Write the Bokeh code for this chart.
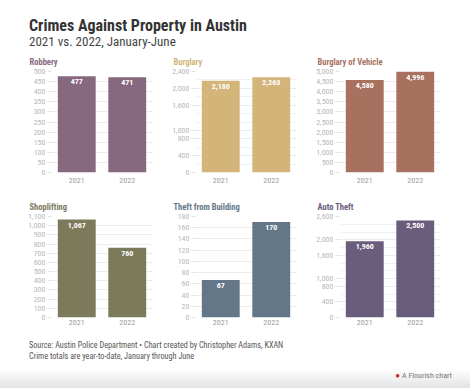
from bokeh.plotting import figure
from bokeh.layouts import column, row
from bokeh.models import Div, FactorRange, FixedTicker, ColumnDataSource, NumeralTickFormatter, Range1d
from bokeh.embed import file_html
from bokeh.resources import INLINE
from bokeh.core.properties import value

FONT = "Roboto Condensed"

years = ["2021", "2022"]
crimes = ["Robbery", "Burglary", "Burglary of Vehicle", "Shoplifting", "Theft from Building", "Auto Theft"]
robbery = [477, 471]
burglary = [2180, 2263]
burglary_vehicle = [4580, 4996]
shoplifting = [1067, 760]
theft_building = [67, 170]
auto_theft = [1960, 2500]

robbery_ticks = [0, 50, 100, 150, 200, 250, 300, 350, 400, 450, 500]
burglary_ticks = [0, 400, 800, 1000, 1600, 2000, 2400]
burglary_minor = [200, 600, 1200, 1400, 1800, 2200]
vehicle_ticks = [0, 500, 1000, 1500, 2000, 2500, 3000, 3500, 4000, 4500, 5000]
shoplifting_ticks = [0, 100, 200, 300, 400, 500, 600, 700, 800, 900, 1000, 1100]
building_ticks = [0, 20, 40, 60, 80, 100, 120, 140, 160, 180]
auto_ticks = [0, 400, 800, 1000, 1600, 2000, 2600]
auto_minor = [200, 600, 1200, 1400, 1800, 2200, 2400]

colors = ["#87697f", "#d3b57a", "#a8705f", "#7c7a5a", "#637789", "#6a5d7c"]


def panel(name, vals, ticks, minor, color, top_border, left_border, x_standoff):
    src = ColumnDataSource(dict(year=years, val=vals, label=[f"{v:,}" for v in vals]))
    p = figure(x_range=FactorRange(*years, range_padding=0), y_range=Range1d(0, ticks[-1]),
               frame_width=101, frame_height=101, min_border_left=left_border, min_border_right=0,
               min_border_top=top_border, min_border_bottom=16,
               toolbar_location=None, output_backend="svg", title=name)
    p.outline_line_color = None
    p.title.text_font = FONT
    p.title.text_font_size = "8.5px"
    p.title.text_font_style = "bold"
    p.title.text_color = color
    p.title.align = "left"
    p.title.offset = -22
    p.title.standoff = 9
    p.vbar(x="year", top="val", width=0.75, source=src, fill_color=color, line_color=None)
    p.text(x="year", y="val", text="label", source=src, text_color="white",
           text_font=value(FONT), text_font_size="8px", text_font_style="bold",
           text_align="center", text_baseline="top", y_offset=3)
    p.yaxis.ticker = FixedTicker(ticks=ticks, minor_ticks=minor)
    p.yaxis.formatter = NumeralTickFormatter(format="0,0")
    p.yaxis.axis_line_color = None
    p.yaxis.major_tick_line_color = "#e2e2e2"
    p.yaxis.major_tick_out = 4
    p.yaxis.major_tick_in = 0
    p.yaxis.minor_tick_line_color = None
    p.yaxis.major_label_text_color = "#b8b8b8"
    p.yaxis.major_label_text_font = FONT
    p.yaxis.major_label_text_font_size = "8px"
    p.yaxis.major_label_standoff = 2
    p.xaxis.axis_line_color = None
    p.xaxis.major_tick_line_color = None
    p.xaxis.major_tick_out = 0
    p.xaxis.major_tick_in = 0
    p.xaxis.major_label_text_color = "#9a9a9a"
    p.xaxis.major_label_text_font = FONT
    p.xaxis.major_label_text_font_size = "8px"
    p.xaxis.major_label_standoff = x_standoff
    p.xgrid.grid_line_color = None
    p.ygrid.grid_line_color = "#ececec"
    if minor:
        p.ygrid.minor_grid_line_color = "#f1f1f1"
    return p


f1 = panel(crimes[0], robbery, robbery_ticks, [], colors[0], 23, 51, 5)
f2 = panel(crimes[1], burglary, burglary_ticks, burglary_minor, colors[1], 23, 43, 5)
f3 = panel(crimes[2], burglary_vehicle, vehicle_ticks, [], colors[2], 23, 43, 5)
f4 = panel(crimes[3], shoplifting, shoplifting_ticks, [], colors[3], 28, 51, 2)
f5 = panel(crimes[4], theft_building, building_ticks, [], colors[4], 28, 43, 2)
f6 = panel(crimes[5], auto_theft, auto_ticks, auto_minor, colors[5], 28, 43, 2)

ff = "'Roboto Condensed', 'Liberation Sans Narrow', Roboto, sans-serif"
title = Div(text=(
    f"<div style=\"font-family:{ff};padding-left:29px;padding-top:17px;\">"
    "<div style=\"font-size:16px;font-weight:bold;color:#333;line-height:17px;\">Crimes Against Property in Austin</div>"
    "<div style=\"font-size:13px;color:#444;line-height:16px;\">2021 vs. 2022, January-June</div></div>"),
    width=470, height=48, margin=0)

footer = Div(text=(
    f"<div style=\"font-family:{ff};width:470px;height:55px;position:relative;"
    "background:linear-gradient(to bottom, #ffffff 0px, #ffffff 36px, #e3e3e3 55px);\">"
    "<div style=\"padding-left:29px;padding-top:7px;font-size:8.2px;color:#555;line-height:10.5px;\">"
    "Source: Austin Police Department \u2022 Chart created by Christopher Adams, KXAN<br>"
    "Crime totals are year-to-date, January through June</div>"
    "<div style=\"position:absolute;right:18px;top:37px;font-size:8px;color:#777;\">"
    "<span style=\"color:#cc2a2a;font-size:8px;\">\u25cf</span> A Flourish chart</div></div>"),
    width=470, height=55, margin=0)

layout = column(title, row(f1, f2, f3), row(f4, f5, f6), footer, spacing=0)

open("out.html", "w").write(file_html(layout, INLINE))
